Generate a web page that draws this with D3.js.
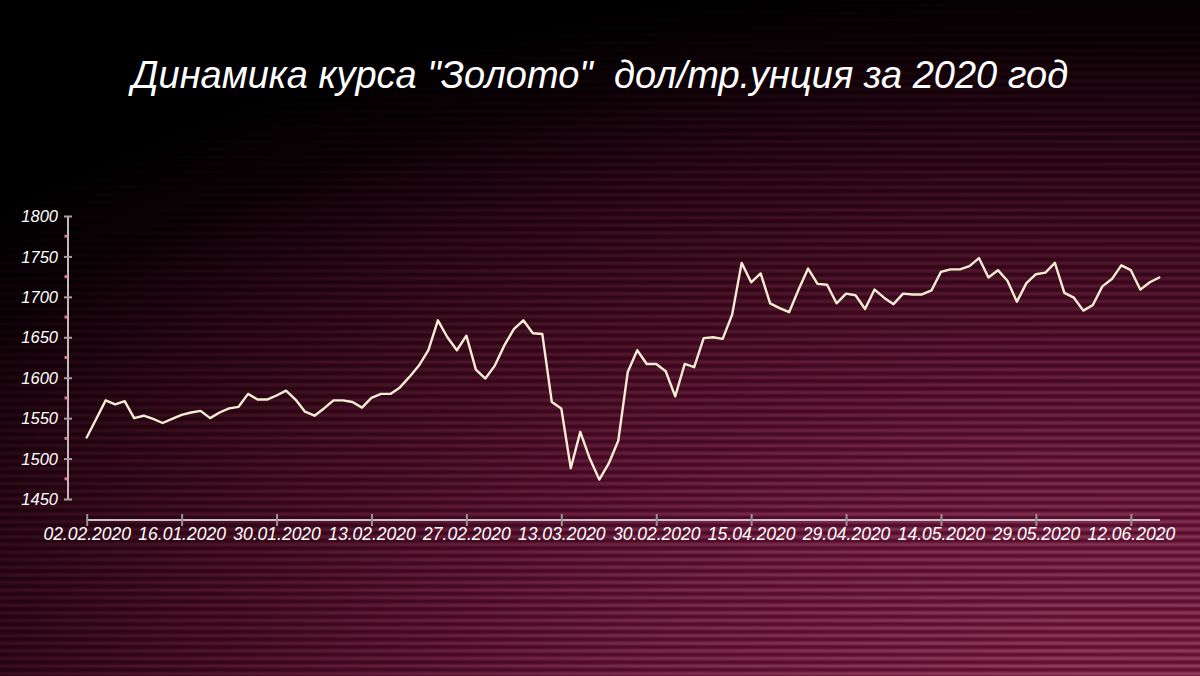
<!DOCTYPE html>
<html><head><meta charset="utf-8">
<script src="https://cdn.jsdelivr.net/npm/d3@7/dist/d3.min.js"></script>
<style>html,body{margin:0;padding:0;background:#000;overflow:hidden}</style>
</head><body><svg id="c" width="1200" height="676"></svg>
<script>
const titleText = 'Динамика курса "Золото"  дол/тр.унция за 2020 год';
const values = [1526,1549,1572,1567,1571,1550,1553,1549,1544,1549,
1554,1557,1559,1550,1557,1562,1564,1580,1573,1573,
1578,1584,1573,1558,1553,1562,1572,1572,1570,1563,
1575,1580,1580,1588,1601,1615,1634,1671,1650,1634,
1652,1610,1599,1615,1640,1660,1671,1655,1654,1570,
1562,1488,1533,1500,1474,1494,1522,1607,1634,1617,
1617,1608,1577,1617,1613,1649,1650,1648,1678,1742,
1718,1729,1692,1686,1681,1709,1735,1716,1715,1692,
1704,1702,1685,1709,1699,1691,1704,1703,1703,1708,
1731,1734,1734,1738,1748,1724,1733,1720,1694,1717,
1728,1730,1742,1705,1699,1683,1690,1713,1722,1739,
1733,1709,1718,1724];
const xTickLabels = ["02.02.2020","16.01.2020","30.01.2020","13.02.2020","27.02.2020","13.03.2020",
"30.02.2020","15.04.2020","29.04.2020","14.05.2020","29.05.2020","12.06.2020"];
const xTickStep = 10;
const yTicks = [1450,1500,1550,1600,1650,1700,1750,1800];
const yMinorTicks = [1475,1525,1575,1625,1675,1725,1775];

const W = 1200, H = 676;
const svg = d3.select("#c");
const defs = svg.append("defs");
const FONT = "'Liberation Sans', Arial, sans-serif";

// background gradients
function radial(id, stops){
  const g = defs.append("radialGradient").attr("id", id)
    .attr("gradientUnits","userSpaceOnUse").attr("cx",0).attr("cy",0).attr("r",1)
    .attr("gradientTransform","translate(1150,720) scale(1575,756)");
  stops.forEach(s => g.append("stop").attr("offset", s[0]).attr("stop-color", s[1]));
}
radial("bgDark", [[0,"#661232"],[0.33,"#520c2a"],[0.52,"#3e081e"],[0.69,"#2a0512"],[0.81,"#19030b"],[0.9,"#090104"],[1,"#000"]]);
radial("bgLight", [[0,"#94405e"],[0.33,"#7a2a4a"],[0.52,"#5e1a36"],[0.69,"#421024"],[0.81,"#2a0816"],[0.9,"#100308"],[1,"#000"]]);

const sg = defs.append("linearGradient").attr("id","stripeGrad").attr("x1",0).attr("y1",0).attr("x2",0).attr("y2",1);
sg.append("stop").attr("offset",0).attr("stop-color","#000");
sg.append("stop").attr("offset",0.25).attr("stop-color","#000");
sg.append("stop").attr("offset",0.55).attr("stop-color","#fff");
sg.append("stop").attr("offset",0.75).attr("stop-color","#fff");
sg.append("stop").attr("offset",1).attr("stop-color","#000");
const pat = defs.append("pattern").attr("id","stripes").attr("patternUnits","userSpaceOnUse")
  .attr("width",W).attr("height",7.6);
pat.append("rect").attr("width",W).attr("height",7.6).attr("fill","url(#stripeGrad)");
defs.append("mask").attr("id","stripeMask")
  .append("rect").attr("width",W).attr("height",H).attr("fill","url(#stripes)");

svg.append("rect").attr("width",W).attr("height",H).attr("fill","url(#bgDark)");
svg.append("rect").attr("width",W).attr("height",H).attr("fill","url(#bgLight)").attr("mask","url(#stripeMask)");

// title
svg.append("text").attr("x",600).attr("y",88).attr("text-anchor","middle")
  .style("white-space","pre")
  .attr("font-family",FONT).attr("font-style","italic").attr("font-size",38).attr("fill","#fff")
  .text(titleText);

// scales
const x = d3.scaleLinear().domain([0, values.length-1]).range([86.7, 1159.3]);
const y = d3.scaleLinear().domain([1450,1800]).range([499,216]);

// y axis
const yAxis = svg.append("g").attr("transform","translate(68,0)")
  .call(d3.axisLeft(y).tickValues(yTicks).tickSize(4).tickPadding(6).tickFormat(d3.format("d")));
yAxis.select(".domain").attr("stroke","#c4b8bd").attr("stroke-width",2).attr("d","M0,216V499");
yAxis.selectAll(".tick line").attr("x1",-4).attr("x2",4).attr("stroke","#a9a0a4").attr("stroke-width",2);
yAxis.selectAll(".tick text").attr("fill","#fff").attr("font-family",FONT).attr("font-style","italic")
  .attr("font-size",16.5).attr("dy","0.34em");
svg.append("g").selectAll("rect").data(yMinorTicks).join("rect")
  .attr("x",64.5).attr("y",d => y(d)-1.5).attr("width",3).attr("height",3).attr("fill","#e0788f");

// x axis
const tickIdx = xTickLabels.map((d,i) => i*xTickStep);
const xAxis = svg.append("g").attr("transform","translate(0,520)")
  .call(d3.axisBottom(x).tickValues(tickIdx).tickSize(6).tickFormat((d,i) => xTickLabels[i]));
xAxis.select(".domain").attr("stroke","#c8c0c4").attr("stroke-width",2.2).attr("d","M86.7,0H1160");
xAxis.selectAll(".tick line").attr("y1",-6).attr("y2",6).attr("stroke","#9a9296").attr("stroke-width",2);
xAxis.selectAll(".tick text").attr("fill","#fff").attr("font-family",FONT).attr("font-style","italic")
  .attr("font-size",17.5).attr("y",20).attr("dy","0");

// line
svg.append("path").datum(values)
  .attr("d", d3.line().x((d,i) => x(i)).y(d => y(d)))
  .attr("fill","none").attr("stroke","#f4edd4").attr("stroke-width",2.4)
  .attr("stroke-linejoin","round").attr("stroke-linecap","round");
</script>
</body></html>
